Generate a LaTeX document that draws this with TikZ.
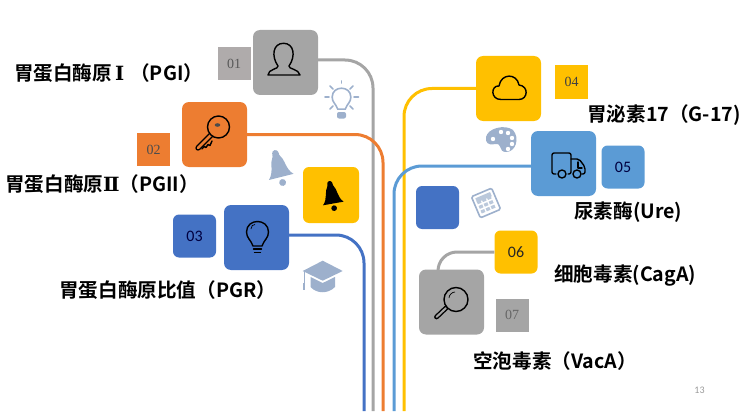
\documentclass[tikz,border=0pt]{standalone}
\usepackage{fontspec}
\usepackage{tikz}
\setmainfont{Liberation Serif}
\newfontfamily\cjkbold{Noto Sans CJK SC}[BoldFont={Noto Sans CJK SC Bold}]
\newfontfamily\romanbold{DejaVu Serif}[BoldFont={DejaVu Serif Bold}]
\newfontfamily\numsans{Carlito}
\usetikzlibrary{positioning}

\definecolor{grayc}{HTML}{A5A5A5}
\definecolor{orangec}{HTML}{ED7D31}
\definecolor{bluec}{HTML}{4472C4}
\definecolor{yellowc}{HTML}{FFC000}
\definecolor{skyc}{HTML}{5B9BD5}
\definecolor{palec}{HTML}{9DB0CC}
\definecolor{tagc}{HTML}{AFABAB}

\tikzset{
	iconbox/.style={rounded corners=7pt,minimum size=65pt,inner sep=0pt},
	tagbox/.style={minimum size=33pt,inner sep=0pt,font=\fontsize{14}{14}\selectfont},
	roundtag/.style={rounded corners=6pt,minimum size=43pt,inner sep=0pt,font=\numsans\fontsize{16}{16}\selectfont},
	linkline/.style={line width=3pt,rounded corners=28pt},
	itemlabel/.style={anchor=west,inner sep=0pt,font=\cjkbold\bfseries\fontsize{19.6}{19.6}\selectfont},
	iconline/.style={draw=black,line width=1.4pt,line join=round,line cap=round},
	paleline/.style={draw=palec,line width=1.6pt,line cap=round},
	bellicon/.pic={
		\path[pic actions] (0,-16) .. controls (-3,-16) and (-3,-12) .. (-3,-11)
			.. controls (-7,-6) and (-5,2) .. (-11,8) -- (11,8)
			.. controls (5,2) and (7,-6) .. (3,-11) .. controls (3,-12) and (3,-16) .. (0,-16) -- cycle;
		\path[pic actions] (0,13) circle (3);
	},
	bulbicon/.pic={
		\path[pic actions] (-4.5,13) .. controls (-6.5,7) and (-11,5) .. (-11,-1)
			.. controls (-11,-15) and (11,-15) .. (11,-1)
			.. controls (11,5) and (6.5,7) .. (4.5,13) -- cycle;
	}
}

\begin{document}
\begin{tikzpicture}[x=1pt,y=-1pt]
	\useasboundingbox (0,0) rectangle (750,420);

	% Boxes
	\node[iconbox,fill=grayc] (personbox) at (285.5,62.5) {};
	\node[iconbox,fill=orangec] (keybox) at (214.5,134.5) {};
	\node[iconbox,fill=bluec] (bulbbox) at (256.5,237.5) {};
	\node[iconbox,fill=yellowc] (cloudbox) at (508.5,88.5) {};
	\node[iconbox,fill=skyc] (truckbox) at (563.5,163.5) {};
	\node[iconbox,fill=grayc] (lensbox) at (451.5,302) {};
	\node[rounded corners=6pt,minimum size=56pt,inner sep=0pt,fill=yellowc] (bellbox) at (331,195) {};
	\node[roundtag,fill=bluec] (plainbox) at (437.5,207.5) {};

	% Number tags
	\node[tagbox,fill=tagc,text=black!65] (tagone) at (234,64) {01};
	\node[tagbox,fill=orangec,text=black!70] (tagtwo) at (153.5,149.5) {02};
	\node[roundtag,fill=bluec,text=black!75!blue] (tagthree) at (194.5,236) {03};
	\node[tagbox,fill=yellowc,text=black!75] (tagfour) at (571.5,82) {04};
	\node[roundtag,fill=skyc,text=black!75!blue] (tagfive) at (623,167) {05};
	\node[roundtag,fill=yellowc,text=black!85] (tagsix) at (516,252) {06};
	\node[tagbox,fill=grayc,text=black!60] (tagseven) at (512,315) {07};

	% Ends of the lines
	\coordinate (grayend) at (373,411);
	\coordinate (orangeend) at (383,411);
	\coordinate (blueend) at (364,411);
	\coordinate (yellowend) at (404,411);
	\coordinate (skyend) at (394,411);
	\coordinate (lenstop) at (438,270);

	% Lines
	\draw[linkline,grayc] ([yshift=2.5pt]personbox.east) -| (grayend);
	\draw[linkline,orangec] (keybox.east) -| (orangeend);
	\draw[linkline,bluec] ([yshift=2.5pt]bulbbox.east) -| (blueend);
	\draw[linkline,yellowc] (cloudbox.west) -| (yellowend);
	\draw[linkline,skyc] ([yshift=-2.5pt]truckbox.west) -| (skyend);
	\draw[linkline,grayc,rounded corners=19pt] (tagsix.west) -| (lenstop);

	% Person
	\draw[iconline] (278,66) .. controls (271,56) and (273,43.3) .. (283.5,43.3)
		.. controls (294,43.3) and (296,56) .. (289,66)
		.. controls (288,69) and (299,69) .. (300,75) -- (268,75)
		.. controls (268,69) and (279,69) .. (278,66) -- cycle;

	% Key
	\draw[iconline,double=orangec,double distance=2.6pt] (211,135) -- (198,148);
	\draw[iconline,fill=orangec] (218.5,127) circle (11);
	\fill[black!70] (217.5,125) ellipse (2.8 and 1.8);
	\draw[iconline] (202,149) -- (204,146.5) -- (206,147.5) -- (208,144.5) -- (210,145.5) -- (212,141);

	% Black bulb
	\pic[iconline] at (257.5,233) {bulbicon};
	\draw[iconline] (253.5,249) -- (261.5,249);
	\draw[iconline] (254.5,252.5) -- (260.5,252.5);
	\draw[black,line width=0.7pt] (251,229) .. controls (251,226) and (253,224.5) .. (255,224.5);

	% Cloud
	\draw[iconline] (501,99.5) .. controls (490,99.5) and (491,85) .. (499,86)
		.. controls (501,73) and (517,73) .. (519,85)
		.. controls (529,86) and (528,99.5) .. (519,99.5) -- cycle;

	% Truck
	\draw[iconline,rounded corners=2pt] (556,174) -- (552,174) -- (552,153) -- (571,153) -- (571,174) -- (568,174);
	\draw[iconline,rounded corners=2pt] (571,159) -- (579,159) -- (585,167) -- (585,174) -- (582,174);
	\draw[iconline] (578,162) -- (578,168) -- (582,168);
	\draw[iconline,fill=skyc] (562,174) circle (4);
	\draw[iconline,fill=skyc] (577,174) circle (4);

	% Magnifier
	\draw[iconline,double=grayc,double distance=2pt] (446,308) -- (436.5,317);
	\draw[iconline,fill=grayc] (456,299.5) circle (12);
	\draw[black,line width=0.7pt] (449,298) .. controls (449,295) and (452,292) .. (455,292);

	% Bells
	\pic[fill=black,rotate=10,scale=0.95] at (332,196) {bellicon};
	\pic[fill=palec,rotate=14,scale=1.15] at (279,168) {bellicon};

	% Pale bulb
	\pic[paleline,scale=0.85] at (341.5,98) {bulbicon};
	\fill[palec,rounded corners=2pt] (337,112) rectangle (346,118.5);
	\draw[paleline] (341.5,81) -- (341.5,83);
	\draw[paleline] (325,97) -- (329,97);
	\draw[paleline] (354,97) -- (358.5,97);
	\draw[paleline] (330,86) -- (333,89);
	\draw[paleline] (353,86) -- (350,89);
	\draw[paleline] (330,109) -- (333,106);
	\draw[paleline] (353,109) -- (350,106);

	% Hat
	\fill[palec] (322.7,260.7) -- (342.7,271) -- (322.7,280.7) -- (302.7,271) -- cycle;
	\fill[palec] (310.5,277) -- (322.7,283) -- (335,277) -- (335,287)
		.. controls (328,294) and (317,294) .. (310.5,287) -- cycle;
	\draw[palec,line width=0.8pt] (304,272) -- (304,283);
	\draw[palec,line width=2.5pt] (304,283) -- (304,290);

	% Palette
	\fill[palec] (486,137) .. controls (488,128) and (505,124) .. (513,130)
		.. controls (520,138) and (516,152) .. (506,152)
		.. controls (498,152) and (503,143) .. (495,144)
		.. controls (488,146) and (485,142) .. (486,137) -- cycle;
	\foreach \px/\py in {493/139,501/132,508/133,512/138,512/144,508/149}
		\fill[white] (\px,\py) circle (2.2);

	% Calculator
	\begin{scope}[shift={(486,203)},rotate=23]
		\draw[paleline,fill=white,rounded corners=1.5pt] (-11,-11.5) rectangle (11,11.5);
		\fill[palec!70] (-8,-8.5) rectangle (8,-4);
		\foreach \cx in {-8,-2.5,3}
			\foreach \cy in {-2,3,8}
				\fill[palec!70] (\cx,\cy) rectangle +(4,-3.2);
	\end{scope}

	% Labels
	\node[itemlabel] (labelone) at (14,73) {胃蛋白酶原\hspace{3pt}{\romanbold\bfseries Ⅰ}\hspace{6pt}（PGI）};
	\node[itemlabel] (labeltwo) at (5,184.5) {胃蛋白酶原{\romanbold\bfseries Ⅱ}（PGII）};
	\node[itemlabel] (labelthree) at (59,290) {胃蛋白酶原比值（PGR）};
	\node[itemlabel] (labelfour) at (587,115) {胃泌素17（G-17)};
	\node[itemlabel] (labelfive) at (574,212) {尿素酶(Ure)};
	\node[itemlabel] (labelsix) at (554,276) {细胞毒素(CagA)};
	\node[itemlabel] (labelseven) at (473,361) {空泡毒素（VacA）};

	% Page number
	\node[text=black!40,inner sep=0pt,font=\numsans\fontsize{10}{10}\selectfont] (pagenum) at (699.5,390) {13};
\end{tikzpicture}
\end{document}
